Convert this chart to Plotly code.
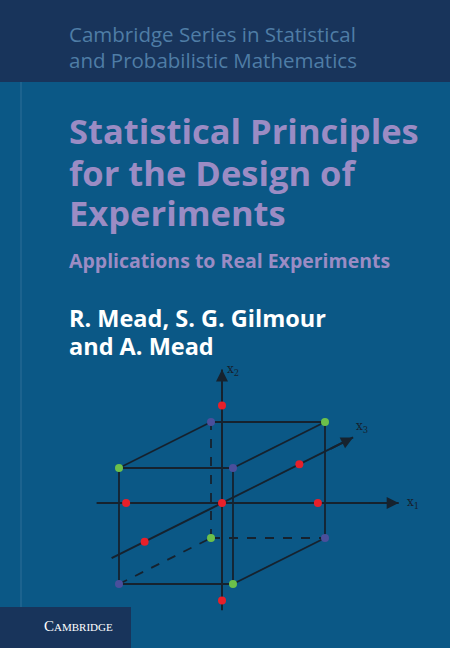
import plotly.graph_objects as go
import numpy as np

# Central composite design in coded units (x1, x2, x3)
alpha = 1.682
cube_x1 = [-1, 1, -1, 1, -1, 1, -1, 1]
cube_x2 = [-1, -1, 1, 1, -1, -1, 1, 1]
cube_x3 = [-1, -1, -1, -1, 1, 1, 1, 1]
star_x1 = [-alpha, alpha, 0, 0, 0, 0, 0]
star_x2 = [0, 0, -alpha, alpha, 0, 0, 0]
star_x3 = [0, 0, 0, 0, -alpha, alpha, 0]

# oblique projection of the coded space onto the cover (pixel units)
origin = (222, 503)
e1 = (57, 0)
e2 = (0, -58)
e3 = (46, -23)

def proj(a, b, c):
    a, b, c = np.asarray(a, float), np.asarray(b, float), np.asarray(c, float)
    return origin[0] + e1[0] * a + e2[0] * b + e3[0] * c, origin[1] + e1[1] * a + e2[1] * b + e3[1] * c

W, H = 450, 648
bg_main = "#0b5886"
bg_top = "#18345b"
edge_col = "#16222e"

fig = go.Figure()

# cube edges
hidden = (-1, -1, 1)
corners = list(zip(cube_x1, cube_x2, cube_x3))
for i, p in enumerate(corners):
    for q in corners[i + 1:]:
        if sum(abs(p[k] - q[k]) for k in range(3)) != 2:
            continue
        dashed = p == hidden or q == hidden
        xs, ys = proj([p[0], q[0]], [p[1], q[1]], [p[2], q[2]])
        fig.add_trace(go.Scatter(x=xs, y=ys, mode="lines", showlegend=False, hoverinfo="skip",
                                 line=dict(color=edge_col, width=1.8, dash="dash" if dashed else "solid")))

# coordinate axes with arrows
axes_ext = [(-2.2, 3.1), (-1.85, 2.3), (-2.4, 2.85)]
for k, (lo, hi) in enumerate(axes_ext):
    v = [[0, 0], [0, 0], [0, 0]]
    v[k] = [lo, hi]
    xs, ys = proj(*v)
    fig.add_trace(go.Scatter(x=xs, y=ys, mode="lines", showlegend=False, hoverinfo="skip",
                             line=dict(color=edge_col, width=2)))
    fig.add_annotation(x=xs[1], y=ys[1], ax=xs[0] + (xs[1] - xs[0]) * 0.9, ay=ys[0] + (ys[1] - ys[0]) * 0.9,
                       xref="x", yref="y", axref="x", ayref="y", text="", showarrow=True,
                       arrowhead=2, arrowsize=1.2, arrowwidth=2, arrowcolor=edge_col)

labels = [("x<sub>1</sub>", 3.35, 0, 0), ("x<sub>2</sub>", 0.2, 2.3, 0), ("x<sub>3</sub>", 0, 0.1, 3.05)]
for txt, a, b, c in labels:
    lx, ly = proj(a, b, c)
    fig.add_annotation(x=float(lx), y=float(ly), text=txt, showarrow=False,
                       font=dict(family="DejaVu Serif", size=12, color=edge_col))

# design points
prod = np.array(cube_x1) * np.array(cube_x2) * np.array(cube_x3)
cx, cy = proj(cube_x1, cube_x2, cube_x3)
fig.add_trace(go.Scatter(x=cx, y=cy, mode="markers", showlegend=False,
                         marker=dict(size=8, color=["#6cc04a" if p > 0 else "#4a4f9c" for p in prod])))
sx, sy = proj(star_x1, star_x2, star_x3)
fig.add_trace(go.Scatter(x=sx, y=sy, mode="markers", showlegend=False,
                         marker=dict(size=8, color="#e8202a")))

shapes = [
    dict(type="rect", x0=0, x1=W, y0=0, y1=82, fillcolor=bg_top, line_width=0, layer="below"),
    dict(type="line", x0=21, x1=21, y0=82, y1=607, line=dict(color="#2f6f98", width=1), layer="below"),
    dict(type="rect", x0=0, x1=131, y0=607, y1=H, fillcolor=bg_top, line_width=0),
]

sans = "Open Sans"
texts = [
    ("Cambridge Series in Statistical", 67, 34, 20.5, "#4f7da6", False),
    ("and Probabilistic Mathematics", 67, 60, 20.5, "#4f7da6", False),
    ("Statistical Principles", 67, 130, 34.5, "#9b8cc4", True),
    ("for the Design of", 67, 172, 34.5, "#9b8cc4", True),
    ("Experiments", 67, 212, 34.5, "#9b8cc4", True),
    ("Applications to Real Experiments", 67, 260, 19.5, "#9b8cc4", True),
    ("R. Mead, S. G. Gilmour", 67, 318, 23.5, "#ffffff", True),
    ("and A. Mead", 67, 346, 23.5, "#ffffff", True),
]
for t, x, y, s, c, b in texts:
    fig.add_annotation(x=x, y=y, text=f"<b>{t}</b>" if b else t, showarrow=False, xanchor="left",
                       yanchor="middle", font=dict(family=sans, size=s, color=c))
fig.add_annotation(x=78, y=626, text="C<span style='font-size:11px'>AMBRIDGE</span>", showarrow=False,
                   font=dict(family="Liberation Serif", size=15, color="#ffffff"))

fig.update_layout(width=W, height=H, margin=dict(l=0, r=0, t=0, b=0),
                  paper_bgcolor=bg_main, plot_bgcolor=bg_main, shapes=shapes,
                  xaxis=dict(range=[0, W], visible=False, fixedrange=True),
                  yaxis=dict(range=[H, 0], visible=False, fixedrange=True))

fig.write_html("out.html", config={"displayModeBar": False},
               post_script="document.body.style.margin='0';document.body.style.overflow='hidden';")
